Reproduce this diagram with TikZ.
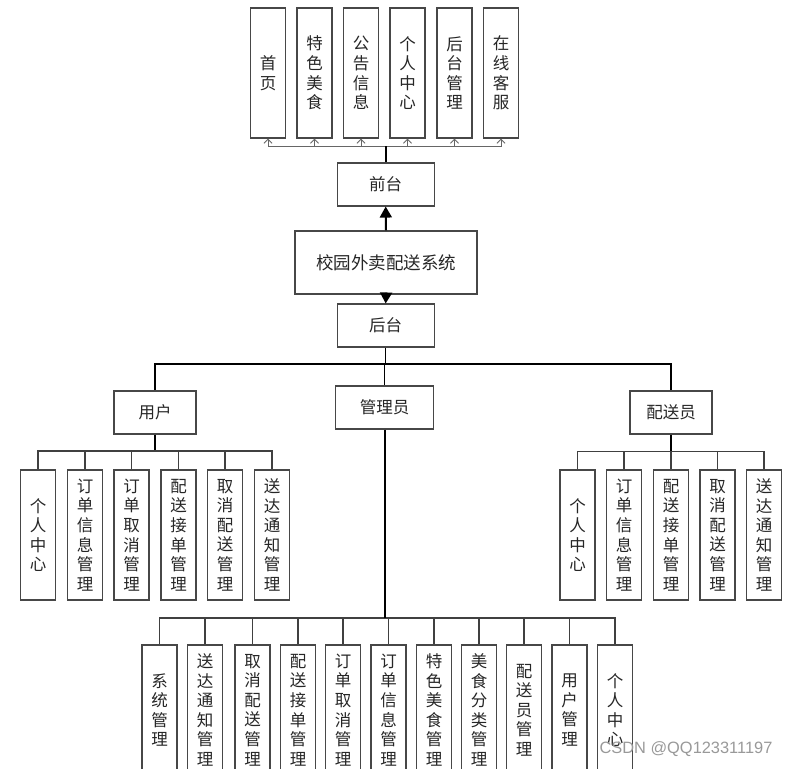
\documentclass[tikz,border=0pt]{standalone}
\usepackage{fontspec}
\setmainfont{Noto Sans CJK SC}
\newfontfamily\wmfont{Liberation Sans}
\usetikzlibrary{arrows.meta}
\begin{document}
\begin{tikzpicture}[x=1pt,y=-1pt,
  box/.style={draw=black!72, line width=1.1pt, fill=white, inner sep=0pt,
    font=\fontsize{16.5}{19.6}\selectfont, text=black!85, align=center},
  vbox/.style={box, minimum width=35pt, minimum height=130pt},
  lbox/.style={box, minimum width=97pt, minimum height=43pt},
  mbox/.style={box, minimum width=82pt, minimum height=43pt},
  thin link/.style={draw=black!60, line width=1pt},
  link/.style={draw=black!75, line width=1.3pt},
  spine/.style={draw=black, line width=2pt},
  uparrow/.style={thin link, -{Straight Barb[length=4pt,width=8pt]}},
  bigarrow/.style={spine, -{Triangle[length=11pt,width=12pt]}}
]
\useasboundingbox (0,0) rectangle (789,768);

% top row
\node[vbox] (t1) at (268,73) {首\\页};
\node[vbox] (t2) at (314.5,73) {特\\色\\美\\食};
\node[vbox] (t3) at (361,73) {公\\告\\信\\息};
\node[vbox] (t4) at (407.5,73) {个\\人\\中\\心};
\node[vbox] (t5) at (454.5,73) {后\\台\\管\\理};
\node[vbox] (t6) at (501,73) {在\\线\\客\\服};

\node[lbox] (front) at (385.7,184.5) {前台};
\node[box, minimum width=182pt, minimum height=63pt, font=\fontsize{17.5}{19}\selectfont] (sys) at (386,262.5) {校园外卖配送系统};
\node[lbox] (back) at (385.7,325.5) {后台};

\coordinate (tb) at (front.north |- 0,146);
\foreach \i in {1,...,6} { \draw[uparrow] (tb) -| (t\i.south); }
\draw[spine] (front.north) -- (tb);

\draw[bigarrow] (sys.north) -- (front.south);
\draw[bigarrow] (sys.south) -- (back.north);

% second level
\node[mbox] (user) at (155,412.5) {用户};
\node[box, minimum width=98pt, minimum height=43pt] (admin) at (384.5,407.5) {管理员};
\node[mbox] (cour) at (671,412.5) {配送员};

\coordinate (mb) at (back.south |- 0,364);
\draw[link, draw=black, line width=1.5pt] (back.south) -- (mb);
\draw[link, draw=black] (mb) -| (user.north);
\draw[link, draw=black] (mb) -| (cour.north);
\draw[link, draw=black] (mb -| admin.north) -- (admin.north);

% user children
\node[vbox] (u1) at (38,535) {个\\人\\中\\心};
\node[vbox] (u2) at (85,535) {订\\单\\信\\息\\管\\理};
\node[vbox] (u3) at (131.5,535) {订\\单\\取\\消\\管\\理};
\node[vbox] (u4) at (178.5,535) {配\\送\\接\\单\\管\\理};
\node[vbox] (u5) at (225,535) {取\\消\\配\\送\\管\\理};
\node[vbox] (u6) at (272,535) {送\\达\\通\\知\\管\\理};
\coordinate (ub) at (user.south |- 0,451);
\draw[link, draw=black] (user.south) -- (ub);
\foreach \i in {1,...,6} { \draw[link] (ub) -| (u\i.north); }

% courier children
\node[vbox] (c1) at (577.5,535) {个\\人\\中\\心};
\node[vbox] (c2) at (624,535) {订\\单\\信\\息\\管\\理};
\node[vbox] (c3) at (671,535) {配\\送\\接\\单\\管\\理};
\node[vbox] (c4) at (717.5,535) {取\\消\\配\\送\\管\\理};
\node[vbox] (c5) at (764,535) {送\\达\\通\\知\\管\\理};
\coordinate (cb) at (cour.south |- 0,451.5);
\draw[link, draw=black] (cour.south) -- (cb);
\foreach \i in {1,...,5} { \draw[link] (cb) -| (c\i.north); }

% admin children
\begin{scope}[every node/.append style={minimum height=150pt}]
\node[vbox] (a1) at (159.5,710) {系\\统\\管\\理};
\node[vbox] (a2) at (205,710) {送\\达\\通\\知\\管\\理};
\node[vbox] (a3) at (252.5,710) {取\\消\\配\\送\\管\\理};
\node[vbox] (a4) at (298,710) {配\\送\\接\\单\\管\\理};
\node[vbox] (a5) at (343,710) {订\\单\\取\\消\\管\\理};
\node[vbox] (a6) at (388.5,710) {订\\单\\信\\息\\管\\理};
\node[vbox] (a7) at (434,710) {特\\色\\美\\食\\管\\理};
\node[vbox] (a8) at (479,710) {美\\食\\分\\类\\管\\理};
\node[vbox] (a9) at (524,710) {配\\送\\员\\管\\理};
\node[vbox] (a10) at (569.5,710) {用\\户\\管\\理};
\node[vbox] (a11) at (615,710) {个\\人\\中\\心};
\end{scope}
\coordinate (ab) at (385,618);
\foreach \i in {1,...,11} { \draw[link] (ab) -| (a\i.north); }
\draw[spine] (admin.south -| ab) -- (ab);

% watermark
\node[font=\wmfont\fontsize{16.4}{16.4}\selectfont, text=black!40, inner sep=0pt] (wm) at (686,749) {CSDN @QQ123311197};
\end{tikzpicture}
\end{document}
